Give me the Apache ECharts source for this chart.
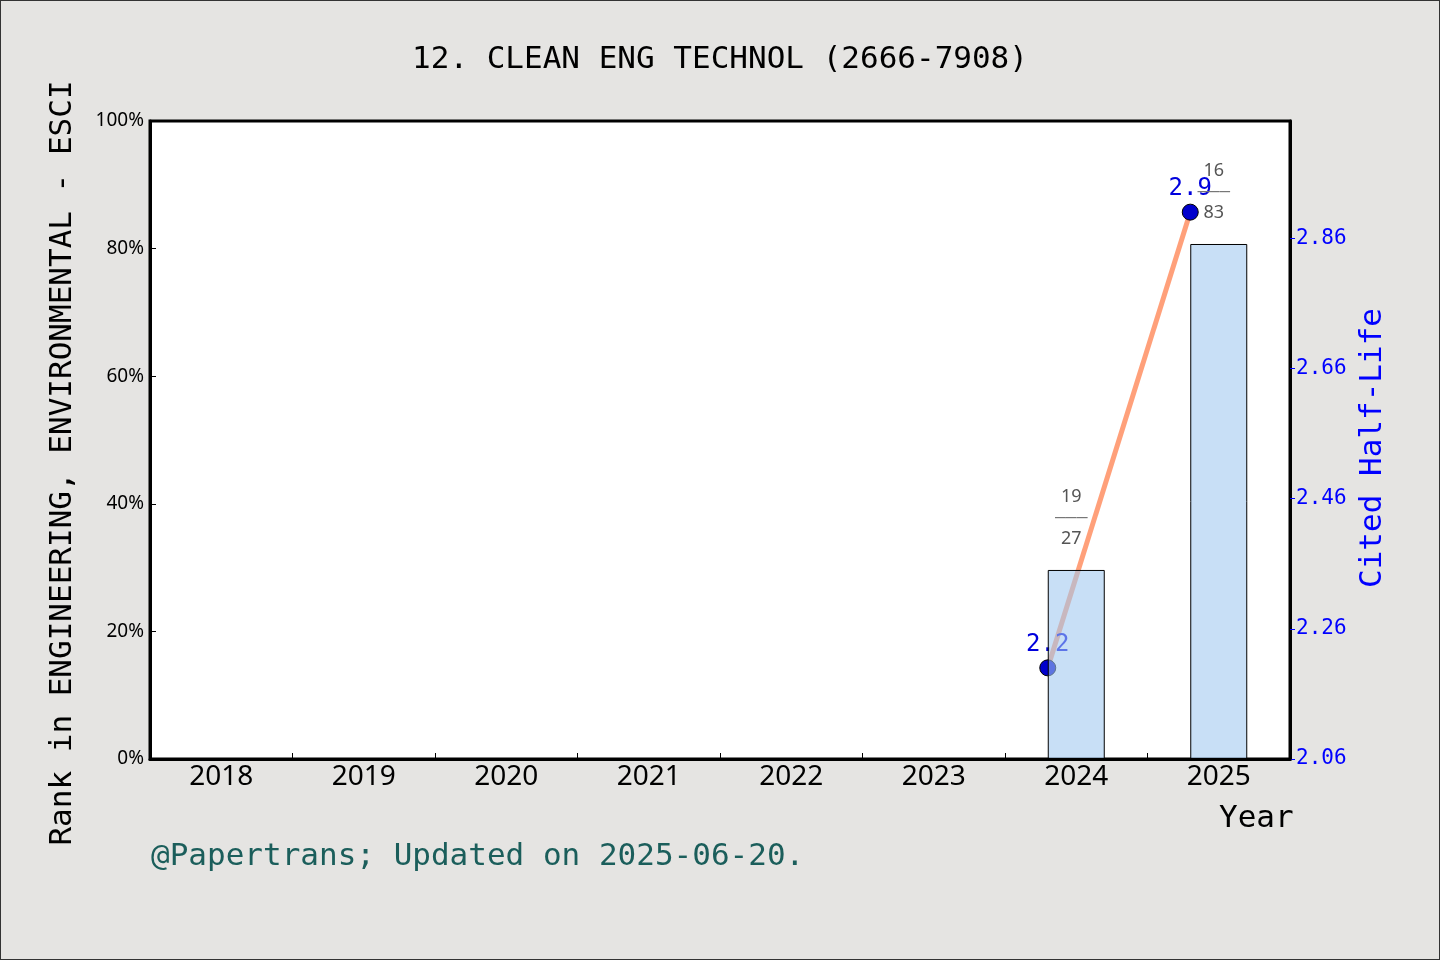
<!DOCTYPE html>
<html>
<head>
<meta charset="utf-8">
<script src="https://cdn.jsdelivr.net/npm/echarts@6/dist/echarts.min.js"></script>
<style>
  html, body { margin: 0; padding: 0; background: #e5e4e2; }
  #main { width: 1440px; height: 960px; box-sizing: border-box; border: 1px solid #333; }
</style>
</head>
<body>
<div id="main"></div>
<script>
// data
var years = ['2018', '2019', '2020', '2021', '2022', '2023', '2024', '2025'];
var rankPos = [null, null, null, null, null, null, 19, 16];
var rankTotal = [null, null, null, null, null, null, 27, 83];
var halfLife = [null, null, null, null, null, null, 2.2, 2.9];
var rightTicks = [2.06, 2.26, 2.46, 2.66, 2.86];

var mono = 'DejaVu Sans Mono';

// percentile bar = 1 - rank/total
var barData = years.map(function (y, i) {
  if (rankPos[i] == null) return null;
  return {
    value: (1 - rankPos[i] / rankTotal[i]) * 100,
    label: { formatter: '{n|' + rankPos[i] + '}\n{d|\u2013\u2013\u2013}\n{n|' + rankTotal[i] + '}' }
  };
});
// line sits at the left edge of each bar
var lineData = [];
years.forEach(function (y, i) {
  if (halfLife[i] != null) lineData.push([i - 0.2, halfLife[i]]);
});

var myChart = echarts.init(document.getElementById('main'));
myChart.setOption({
  backgroundColor: '#e5e4e2',
  title: {
    text: '12. CLEAN ENG TECHNOL (2666-7908)',
    left: 'center',
    top: 38,
    textStyle: { fontFamily: mono, fontSize: 31, fontWeight: 'normal', color: '#000' }
  },
  grid: {
    left: 149, right: 149, top: 120, bottom: 200,
    show: true, backgroundColor: '#fff', borderColor: '#000', borderWidth: 3
  },
  xAxis: [{
    type: 'category',
    data: years,
    z: 5,
    axisLine: { onZero: false, lineStyle: { color: '#000', width: 3 } },
    axisTick: { show: true, interval: 0, alignWithLabel: false, inside: true, length: 6, lineStyle: { color: '#000', width: 1 } },
    axisLabel: { fontFamily: 'Noto Sans', fontSize: 28, color: '#000', margin: 4 }
  }, {
    type: 'value',
    min: -0.5,
    max: years.length - 0.5,
    show: false
  }],
  yAxis: [{
    type: 'value',
    min: 0, max: 100, interval: 20,
    splitLine: { show: false },
    axisLine: { show: true, onZero: false, lineStyle: { color: '#000', width: 3 } },
    axisTick: { show: true, inside: true, length: 6, lineStyle: { color: '#000' } },
    axisLabel: { formatter: '{value}%', fontFamily: 'Noto Sans', fontSize: 19, color: '#000', margin: 6 }
  }, {
    type: 'value',
    position: 'right',
    min: 2.06, max: 3.04,
    splitLine: { show: false },
    axisLine: { show: true, onZero: false, lineStyle: { color: '#000', width: 3 } },
    axisTick: { show: true, length: 5, customValues: rightTicks, lineStyle: { color: '#0000ff' } },
    axisLabel: {
      customValues: rightTicks,
      formatter: function (v) { return v.toFixed(2); },
      fontFamily: mono, fontSize: 21, color: '#0000ff', margin: 6
    }
  }],
  series: [{
    type: 'line',
    xAxisIndex: 1,
    yAxisIndex: 1,
    z: 2,
    data: lineData,
    lineStyle: { color: '#ffa07a', width: 5 },
    symbol: 'circle',
    symbolSize: 16,
    itemStyle: { color: '#0000cc', borderColor: '#000', borderWidth: 1 },
    label: {
      show: true, position: 'top', distance: 3,
      formatter: function (p) { return p.value[1].toFixed(1); },
      fontFamily: mono, fontSize: 24, color: '#0000dd'
    }
  }, {
    type: 'bar',
    z: 3,
    data: barData,
    barWidth: '40%',
    itemStyle: { color: 'rgba(160,200,240,0.58)', borderColor: '#000', borderWidth: 1 },
    label: {
      show: true, position: 'top', distance: 20, offset: [-5, 0],
      rich: {
        n: { fontFamily: 'Noto Sans', fontSize: 18, lineHeight: 22, color: '#555' },
        d: { fontFamily: mono, fontSize: 18, lineHeight: 20, color: '#777' }
      }
    }
  }],
  graphic: [{
    type: 'text',
    x: 62, y: 462, rotation: Math.PI / 2,
    style: {
      text: 'Rank in ENGINEERING, ENVIRONMENTAL - ESCI',
      font: '31px "DejaVu Sans Mono"', fill: '#000',
      textAlign: 'center', textVerticalAlign: 'middle'
    }
  }, {
    type: 'text',
    x: 1372, y: 447, rotation: Math.PI / 2,
    style: {
      text: 'Cited Half-Life',
      font: '31px "DejaVu Sans Mono"', fill: '#0000ff',
      textAlign: 'center', textVerticalAlign: 'middle'
    }
  }, {
    type: 'text',
    left: 1218, top: 802,
    style: { text: 'Year', font: '31px "DejaVu Sans Mono"', fill: '#000' }
  }, {
    type: 'text',
    left: 150, top: 840,
    style: { text: '@Papertrans; Updated on 2025-06-20.', font: '31px "DejaVu Sans Mono"', fill: '#1b5e5b' }
  }]
});
</script>
</body>
</html>
